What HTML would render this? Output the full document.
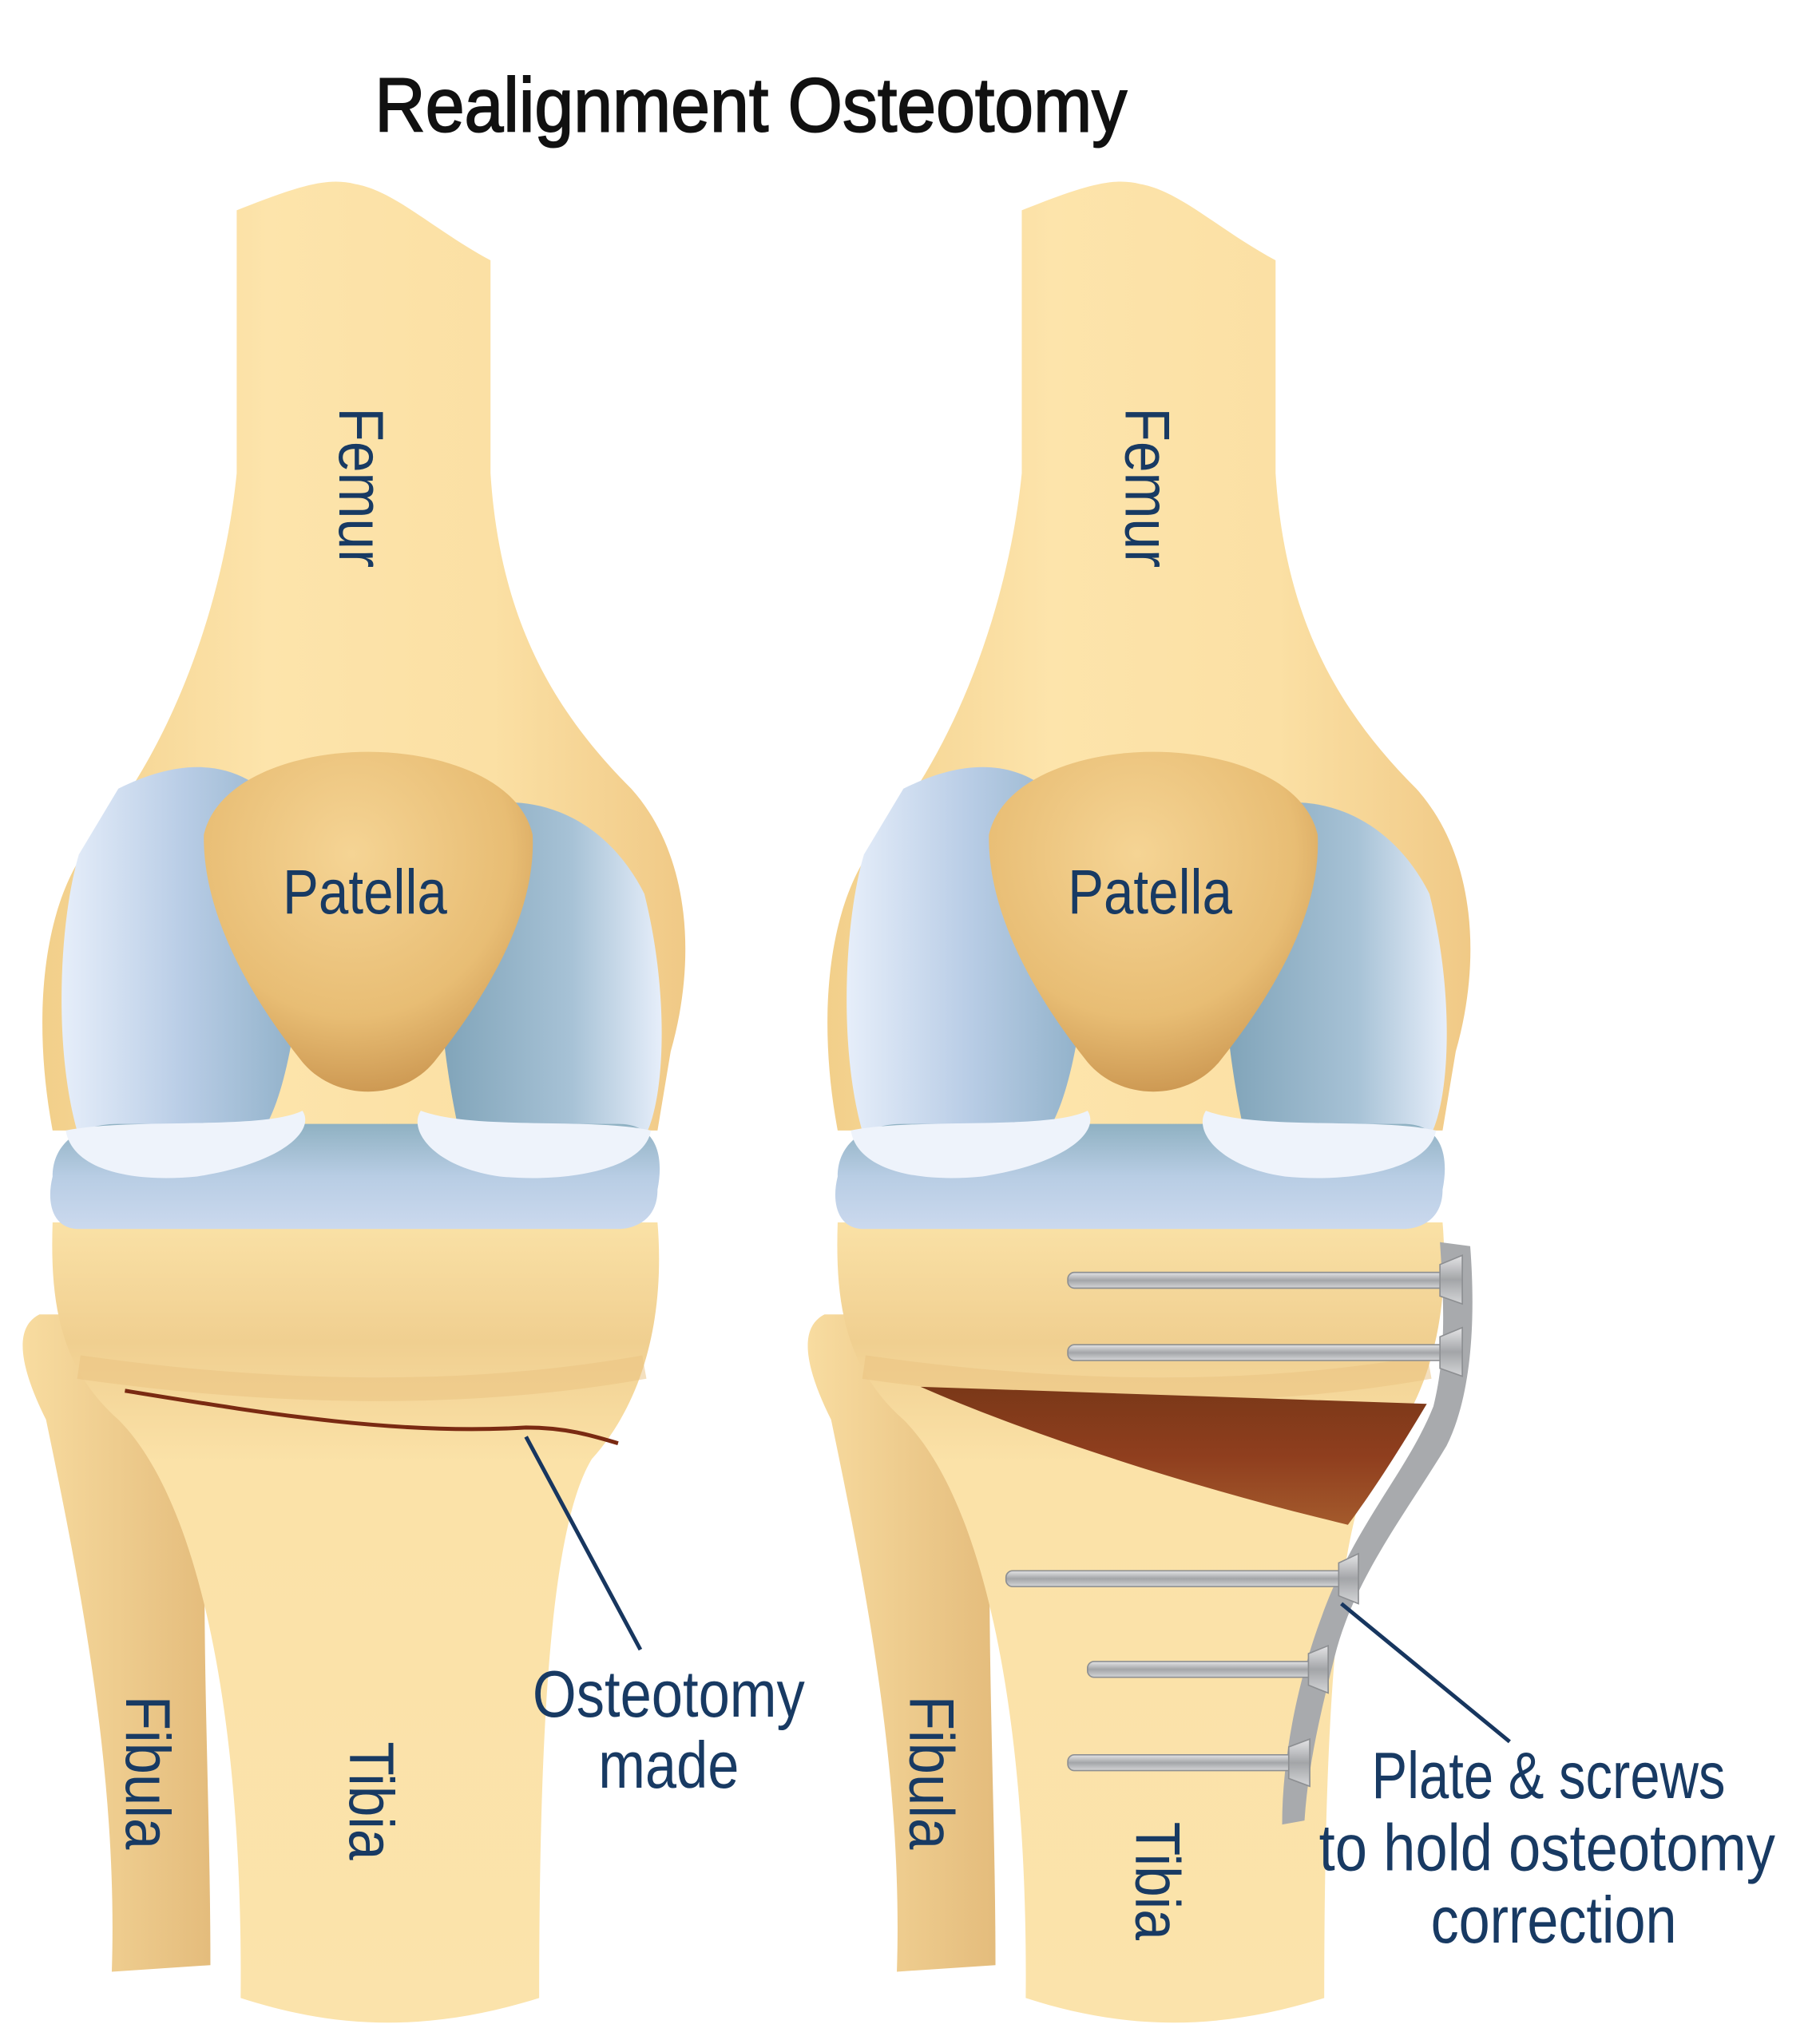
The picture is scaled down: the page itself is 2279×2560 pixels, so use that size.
<!DOCTYPE html>
<html><head><meta charset="utf-8"><style>html,body{margin:0;padding:0;background:#fff}svg{display:block}</style></head>
<body>
<svg width="2279" height="2560" viewBox="0 0 1384 1555" preserveAspectRatio="none" xmlns="http://www.w3.org/2000/svg">
<defs>
<linearGradient id="bone" x1="0" x2="1" y1="0" y2="0">
<stop offset="0" stop-color="#f2cf8a"/><stop offset="0.35" stop-color="#fde4ab"/><stop offset="0.7" stop-color="#fbe0a4"/><stop offset="1" stop-color="#f0c986"/></linearGradient>
<linearGradient id="tib" x1="0" x2="0" y1="0" y2="1">
<stop offset="0" stop-color="#fae1a6"/><stop offset="0.15" stop-color="#f0cf90"/><stop offset="0.3" stop-color="#fbe2a8"/><stop offset="1" stop-color="#fbe3ab"/></linearGradient>
<linearGradient id="fib" x1="0" x2="1"><stop offset="0" stop-color="#f8dca0"/><stop offset="1" stop-color="#e4bc7c"/></linearGradient>
<radialGradient id="pat" cx="0.45" cy="0.3" r="0.8"><stop offset="0" stop-color="#f5d494"/><stop offset="0.6" stop-color="#e8bd74"/><stop offset="1" stop-color="#c28a45"/></radialGradient>
<linearGradient id="cartL" x1="0" x2="1"><stop offset="0" stop-color="#e6eefa"/><stop offset="0.5" stop-color="#b9cde6"/><stop offset="1" stop-color="#8fb0c8"/></linearGradient>
<linearGradient id="cartR" x1="0" x2="1"><stop offset="0" stop-color="#7fa3b8"/><stop offset="0.6" stop-color="#a7c2d6"/><stop offset="1" stop-color="#e6eefa"/></linearGradient>
<linearGradient id="band" x1="0" x2="0" y1="0" y2="1"><stop offset="0" stop-color="#8fb1c2"/><stop offset="0.5" stop-color="#b8cde4"/><stop offset="1" stop-color="#cbd9ee"/></linearGradient>
<linearGradient id="wedge" x1="0" x2="0" y1="0" y2="1"><stop offset="0" stop-color="#7a3818"/><stop offset="0.5" stop-color="#8f3e1e"/><stop offset="1" stop-color="#a45a2c"/></linearGradient>
<linearGradient id="screw" x1="0" x2="0" y1="0" y2="1"><stop offset="0" stop-color="#e4e4e6"/><stop offset="0.5" stop-color="#a3a5a8"/><stop offset="1" stop-color="#d4d5d7"/></linearGradient>
<g id="knee">
  <path d="M30,1000 C10,1010 15,1040 35,1080 C60,1200 90,1350 85,1500 L160,1495 C160,1350 150,1200 160,1080 L130,1000 Z" fill="url(#fib)"/>
  <path d="M40,930 L500,930 C505,990 495,1060 450,1110 C420,1160 410,1300 410,1520 C330,1545 260,1545 183,1520 C185,1300 150,1140 90,1080 C45,1040 38,990 40,930 Z" fill="url(#tib)"/>
  <path d="M60,1040 C200,1060 350,1065 490,1040" stroke="#e9c27f" stroke-width="18" fill="none" opacity="0.5"/>
  <path d="M180,160 C230,140 250,135 270,140 C300,145 330,175 373,198 L373,360 C380,470 420,540 480,600 C525,650 530,730 510,800 L500,860 L40,860 C25,780 30,690 70,640 C130,570 170,460 180,360 Z" fill="url(#bone)"/>
  <path d="M90,600 C150,570 200,580 230,640 C235,740 220,830 200,860 L60,865 C40,800 45,700 60,650 Z" fill="url(#cartL)"/>
  <path d="M340,620 C400,595 460,620 490,680 C510,760 505,840 490,865 L350,865 C335,800 325,700 340,620 Z" fill="url(#cartR)"/>
  <path d="M40,895 C40,870 60,855 90,855 L470,855 C500,855 505,880 500,905 C500,930 480,935 470,935 L60,935 C40,935 35,915 40,895 Z" fill="url(#band)"/>
  <path d="M50,860 C100,850 200,860 230,845 C240,860 215,885 150,895 C100,900 55,890 50,860 Z" fill="#eef3fb"/>
  <path d="M320,845 C360,860 450,850 495,860 C490,890 430,900 380,895 C330,888 310,860 320,845 Z" fill="#eef3fb"/>
  <path d="M280,572 C335,572 395,592 405,635 C408,695 370,758 330,808 C305,838 255,838 230,808 C190,758 154,695 155,635 C165,592 225,572 280,572 Z" fill="url(#pat)"/>
</g>
</defs>
<text x="571" y="100" text-anchor="middle" font-family="Liberation Sans, sans-serif" font-size="58" fill="#111" stroke="#111" stroke-width="1.2" textLength="572" lengthAdjust="spacingAndGlyphs">Realignment Osteotomy</text>
<use href="#knee"/>
<use href="#knee" transform="translate(597,0)"/>
<path d="M95,1058 C200,1075 300,1092 400,1086 C430,1086 450,1092 470,1098" stroke="#7a2a12" stroke-width="3" fill="none"/>
<line x1="400" y1="1093" x2="487" y2="1255" stroke="#17365f" stroke-width="3"/>
<path d="M700,1055 L1085,1068 C1060,1110 1040,1140 1025,1160 C900,1130 780,1090 700,1055 Z" fill="url(#wedge)"/>
<path d="M1095,945 L1118,948 C1122,1000 1120,1060 1100,1100 C1070,1150 1030,1200 1015,1260 C1005,1300 995,1340 992,1385 L975,1388 C975,1330 990,1270 1005,1230 C1030,1160 1070,1120 1090,1070 C1100,1030 1098,990 1095,945 Z" fill="#a8aaad"/>
<g fill="url(#screw)" stroke="#8d8f92" stroke-width="1">
<rect x="812" y="968" width="290" height="12" rx="5"/><path d="M1095,962 L1112,955 L1112,992 L1095,986 Z"/>
<rect x="812" y="1023" width="290" height="12" rx="5"/><path d="M1095,1017 L1112,1010 L1112,1047 L1095,1041 Z"/>
<rect x="765" y="1195" width="262" height="12" rx="5"/><path d="M1018,1189 L1033,1182 L1033,1220 L1018,1214 Z"/>
<rect x="827" y="1264" width="178" height="12" rx="5"/><path d="M995,1258 L1010,1252 L1010,1288 L995,1282 Z"/>
<rect x="812" y="1335" width="178" height="12" rx="5"/><path d="M980,1329 L996,1323 L996,1359 L980,1353 Z"/>
</g>
<line x1="1020" y1="1220" x2="1148" y2="1325" stroke="#17365f" stroke-width="3"/>
<g font-family="Liberation Sans, sans-serif" fill="#183a63" font-size="48" lengthAdjust="spacingAndGlyphs">
<text x="215" y="695" font-size="48" textLength="125" lengthAdjust="spacingAndGlyphs">Patella</text>
<text x="812" y="695" font-size="48" textLength="125" lengthAdjust="spacingAndGlyphs">Patella</text>
<text transform="translate(258,310) rotate(90)" textLength="122" lengthAdjust="spacingAndGlyphs">Femur</text>
<text transform="translate(856,310) rotate(90)" textLength="122" lengthAdjust="spacingAndGlyphs">Femur</text>
<text transform="translate(96,1290) rotate(90)" textLength="117" lengthAdjust="spacingAndGlyphs">Fibula</text>
<text transform="translate(692,1290) rotate(90)" textLength="117" lengthAdjust="spacingAndGlyphs">Fibula</text>
<text transform="translate(266,1325) rotate(90)" textLength="90" lengthAdjust="spacingAndGlyphs">Tibia</text>
<text transform="translate(864,1386) rotate(90)" textLength="90" lengthAdjust="spacingAndGlyphs">Tibia</text>
<text x="405" y="1306" font-size="50" textLength="207" lengthAdjust="spacingAndGlyphs">Osteotomy</text>
<text x="455" y="1360" font-size="50" textLength="107" lengthAdjust="spacingAndGlyphs">made</text>
<text x="1043" y="1368" font-size="50" textLength="269" lengthAdjust="spacingAndGlyphs">Plate &amp; screws</text>
<text x="1003" y="1423" font-size="50" textLength="347" lengthAdjust="spacingAndGlyphs">to hold osteotomy</text>
<text x="1088" y="1478" font-size="50" textLength="187" lengthAdjust="spacingAndGlyphs">correction</text>
</g>
</svg>
</body></html>
